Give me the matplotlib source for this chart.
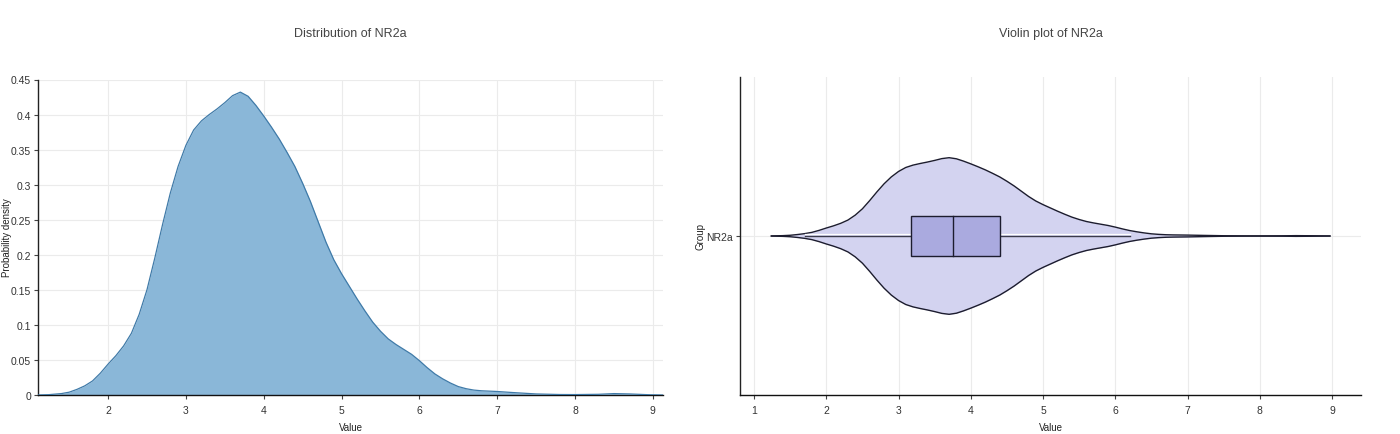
import matplotlib.pyplot as plt
import numpy as np

plt.rcParams['font.family'] = ['Liberation Sans', 'DejaVu Sans']

# Densidad estimada (KDE) de NR2a
kde_x = [1.10, 1.24, 1.40, 1.50, 1.60, 1.70, 1.80, 1.90, 2.00, 2.10, 2.20, 2.30,
         2.40, 2.50, 2.60, 2.70, 2.80, 2.90, 3.00, 3.10, 3.20, 3.30, 3.40, 3.50,
         3.60, 3.70, 3.80, 3.90, 4.00, 4.10, 4.20, 4.30, 4.40, 4.50, 4.60, 4.70,
         4.80, 4.90, 5.00, 5.10, 5.20, 5.30, 5.40, 5.50, 5.60, 5.70, 5.80, 5.90,
         6.00, 6.10, 6.20, 6.30, 6.40, 6.50, 6.60, 6.70, 6.80, 7.00, 7.20, 7.50,
         7.80, 8.00, 8.30, 8.50, 8.70, 8.97, 9.13]
kde_y = [0.0, 0.0005, 0.002, 0.004, 0.008, 0.013, 0.020, 0.031, 0.044, 0.056, 0.070, 0.088,
         0.115, 0.150, 0.195, 0.243, 0.288, 0.326, 0.356, 0.378, 0.391, 0.400, 0.408, 0.417,
         0.427, 0.432, 0.426, 0.413, 0.398, 0.382, 0.365, 0.346, 0.326, 0.302, 0.276, 0.247,
         0.218, 0.193, 0.173, 0.155, 0.137, 0.120, 0.104, 0.091, 0.080, 0.072, 0.065, 0.058,
         0.049, 0.039, 0.030, 0.023, 0.017, 0.012, 0.009, 0.007, 0.006, 0.005, 0.0035, 0.0015,
         0.0007, 0.0006, 0.001, 0.002, 0.0015, 0.0003, 0.0]

# Resumen del boxplot
grupo = 'NR2a'
dato_min, dato_max = 1.24, 8.97
q1, mediana, q3 = 3.17, 3.75, 4.41
bigote_bajo, bigote_alto = 1.70, 6.20

x_ticks_izq = [2, 3, 4, 5, 6, 7, 8, 9]
y_ticks_izq = [0, 0.05, 0.1, 0.15, 0.2, 0.25, 0.3, 0.35, 0.4, 0.45]
y_labels_izq = ['0', '0.05', '0.1', '0.15', '0.2', '0.25', '0.3', '0.35', '0.4', '0.45']
x_ticks_der = [1, 2, 3, 4, 5, 6, 7, 8, 9]

GRIS = '#444444'
GRID = '#ebebeb'
W, H = 1400, 435

fig = plt.figure(figsize=(14, 4.35), dpi=100)
ax1 = fig.add_axes([38 / W, 1 - 396 / H, 625 / W, 315.5 / H])
ax2 = fig.add_axes([740 / W, 1 - 396 / H, 621 / W, 318 / H])

# --- Panel izquierdo: densidad ---
ax1.fill_between(kde_x, kde_y, 0, color='#8ab7d8', linewidth=0, zorder=2)
ax1.plot(kde_x, kde_y, color='#3f7aa8', linewidth=0.9, zorder=3)
ax1.set_xlim(1.10, 9.13)
ax1.set_ylim(0, 0.45)
ax1.set_xticks(x_ticks_izq)
ax1.set_yticks(y_ticks_izq)
ax1.set_yticklabels(y_labels_izq)
ax1.grid(True, color=GRID, linewidth=0.8, zorder=0)
ax1.set_axisbelow(True)

# --- Panel derecho: violin ---
vx = np.array([x for x in kde_x if dato_min <= x <= dato_max])
vy = np.array([y for x, y in zip(kde_x, kde_y) if dato_min <= x <= dato_max])
ancho = 0.4925 * vy / max(kde_y)
ax2.axhline(0, color=GRID, linewidth=0.8, zorder=0)
ax2.fill_between(vx, -ancho, ancho, color='#d3d3f0', linewidth=0, zorder=2)
ax2.plot(vx, ancho, color='#1c1c2e', linewidth=1, zorder=3)
ax2.plot(vx, -ancho, color='#1c1c2e', linewidth=1, zorder=3)
ax2.plot([bigote_bajo, bigote_alto], [0, 0], color='#3a3a4a', linewidth=1, zorder=4)
ax2.plot([bigote_bajo, bigote_alto], [0.014, 0.014], color='white', linewidth=0.9, zorder=4)
h = 0.124
ax2.add_patch(plt.Rectangle((q1, -h), q3 - q1, 2 * h, facecolor='#aaaadf',
                            edgecolor='#1c1c2e', linewidth=1, zorder=5))
ax2.plot([mediana, mediana], [-h, h], color='#1c1c2e', linewidth=1, zorder=6)
ax2.set_xlim(0.806, 9.4)
ax2.set_ylim(-1, 1)
ax2.set_xticks(x_ticks_der)
ax2.set_yticks([0])
ax2.set_yticklabels([grupo])
ax2.grid(True, axis='x', color=GRID, linewidth=0.8, zorder=0)
ax2.set_axisbelow(True)

for ax in (ax1, ax2):
    for s in ('top', 'right'):
        ax.spines[s].set_visible(False)
    ax.spines['left'].set_color('#222222')
    ax.spines['bottom'].set_color('#111111')
    ax.spines['left'].set_linewidth(1)
    ax.spines['bottom'].set_linewidth(1)
    ax.tick_params(direction='out', length=3, width=0.8, labelsize=7.5,
                   labelcolor='#333333', color='#444444', pad=2)
    ax.tick_params(axis='x', pad=4)

# Titulos y etiquetas de ejes
fig.text(350.5 / W, 1 - 34 / H, 'Distribution of NR2a', ha='center', va='center',
         fontsize=9, color=GRIS)
fig.text(1050.5 / W, 1 - 34 / H, 'Violin plot of NR2a', ha='center', va='center',
         fontsize=9, color=GRIS)
fig.text(350.5 / W, 1 - 428 / H, 'Value', ha='center', va='center', fontsize=7, color='#222222')
fig.text(1050.5 / W, 1 - 428 / H, 'Value', ha='center', va='center', fontsize=7, color='#222222')
fig.text(7 / W, 1 - 238 / H, 'Probability density', ha='center', va='center',
         rotation=90, fontsize=7, color='#222222')
fig.text(701 / W, 1 - 237 / H, 'Group', ha='center', va='center',
         rotation=90, fontsize=7, color='#222222')

fig.savefig('out.png', dpi=100, facecolor='white')
